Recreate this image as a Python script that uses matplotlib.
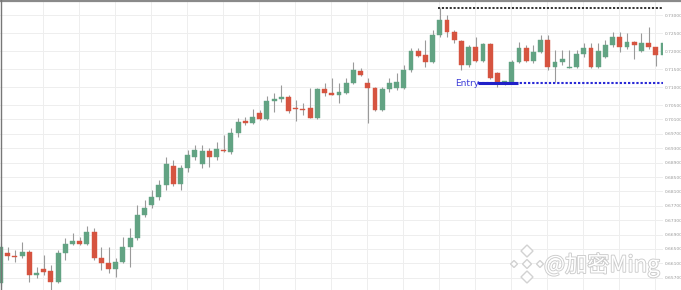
import matplotlib
matplotlib.use("Agg")
import matplotlib.pyplot as plt
import matplotlib.patheffects as pe
from matplotlib.lines import Line2D
from matplotlib.patches import Polygon
import numpy as np

# OHLC, one value per candle
opens = [
    .6555, .6639, .6630, .6630, .6642, .6578, .6594, .6589, .6558, .6639,
    .6664, .6672, .6664, .6697, .6625, .6611, .6594, .6614, .6655, .6680,
    .6744, .6772, .6794, .6828, .6881, .6830, .6875, .6906, .6886, .6922,
    .6906, .6925, .6919, .6972, .7006, .7000, .7028, .7011, .7061, .7067,
    .7072, .7042, .7039, .7042, .7014, .7095, .7083, .7078, .7083, .7111,
    .7145, .7111, .7097, .7036, .7095, .7097, .7097, .7147, .7200, .7189,
    .7170, .7245, .7286, .7253, .7228, .7161, .7211, .7172, .7220, .7139,
    .7111, .7114, .7170, .7208, .7172, .7197, .7231, .7156, .7170, .7154,
    .7156, .7192, .7208, .7156, .7183, .7217, .7239, .7211, .7225, .7200,
    .7222, .7211, .7189]
highs = [
    .6667, .6655, .6647, .6669, .6647, .6600, .6633, .6605, .6647, .6680,
    .6694, .6683, .6714, .6708, .6655, .6655, .6625, .6683, .6708, .6772,
    .6786, .6814, .6842, .6906, .6897, .6883, .6925, .6939, .6939, .6931,
    .6947, .6967, .6986, .7014, .7017, .7039, .7036, .7075, .7083, .7106,
    .7078, .7064, .7056, .7097, .7097, .7111, .7125, .7111, .7125, .7170,
    .7153, .7125, .7100, .7100, .7125, .7139, .7161, .7208, .7208, .7231,
    .7258, .7320, .7300, .7258, .7231, .7217, .7239, .7222, .7222, .7142,
    .7117, .7175, .7225, .7217, .7217, .7245, .7245, .7203, .7203, .7203,
    .7203, .7222, .7222, .7222, .7231, .7253, .7253, .7250, .7228, .7250,
    .7267, .7211, .7231]
lows = [
    .6547, .6619, .6614, .6625, .6558, .6569, .6578, .6536, .6555, .6619,
    .6661, .6661, .6661, .6619, .6592, .6583, .6572, .6611, .6600, .6675,
    .6739, .6764, .6786, .6814, .6825, .6814, .6864, .6897, .6875, .6878,
    .6897, .6919, .6914, .6961, .6995, .6997, .7008, .7008, .7031, .7058,
    .7028, .7006, .7022, .7014, .7011, .7075, .7078, .7056, .7081, .7109,
    .7131, .7000, .7033, .7033, .7086, .7092, .7095, .7142, .7183, .7156,
    .7167, .7239, .7239, .7222, .7147, .7156, .7170, .7170, .7122, .7100,
    .7106, .7111, .7167, .7170, .7167, .7195, .7147, .7114, .7161, .7153,
    .7153, .7183, .7153, .7153, .7181, .7211, .7197, .7206, .7178, .7197,
    .7206, .7158, .7181]
closes = [
    .6655, .6630, .6628, .6642, .6578, .6583, .6586, .6558, .6639, .6664,
    .6672, .6664, .6697, .6625, .6611, .6594, .6614, .6655, .6680, .6744,
    .6764, .6794, .6828, .6886, .6830, .6875, .6911, .6925, .6922, .6906,
    .6928, .6922, .6972, .7003, .7000, .7017, .7011, .7061, .7067, .7072,
    .7033, .7039, .7037, .7014, .7095, .7083, .7079, .7086, .7111, .7147,
    .7134, .7097, .7036, .7095, .7111, .7114, .7147, .7200, .7186, .7170,
    .7245, .7286, .7253, .7231, .7161, .7211, .7172, .7220, .7125, .7114,
    .7117, .7170, .7208, .7172, .7197, .7231, .7156, .7170, .7178, .7156,
    .7192, .7208, .7156, .7200, .7217, .7239, .7211, .7225, .7217, .7222,
    .7211, .7189, .7222]

# right-hand price scale as shown
ytick_vals = [0.730, 0.725, 0.720, 0.715, 0.710, 0.705, 0.701, 0.697, 0.693,
              0.689, 0.685, 0.681, 0.677, 0.673, 0.669, 0.665, 0.661, 0.657]
ytick_labels = ["%.5f" % v for v in ytick_vals]

entry_level = 0.7111
entry_start, entry_end = 66.3, 71.9   # thick entry marker (candle index)
high_idx = int(np.argmax(highs))
resistance = highs[high_idx]

GREEN = "#62a383"
RED = "#d65440"
WICK = "#9a9a9a"

fig = plt.figure(figsize=(6.81, 2.90), dpi=100)
ax = fig.add_axes([0, 0, 663 / 681, 1])

x = np.arange(len(opens))
o = np.array(opens)
c = np.array(closes)
up = c >= o
colors = np.where(up, GREEN, RED)

ax.vlines(x, lows, highs, color=WICK, lw=0.8, zorder=2)
bottom = np.minimum(o, c)
height = np.maximum(np.abs(c - o), 0.0003)
ax.bar(x, height, bottom=bottom, width=0.68, color=colors, edgecolor=colors,
       lw=0.3, zorder=3)

# resistance (black dots) and entry (blue)
ax.hlines(resistance, high_idx - 0.2, 93, colors="#333333", lw=1.4,
          linestyles=(0, (1.1, 0.9)), zorder=4)
ax.hlines(entry_level, entry_start, 93, colors="#2a2ad6", lw=1.5,
          linestyles=(0, (1.1, 0.9)), zorder=4)
ax.hlines(entry_level, entry_start, entry_end, colors="#2020c8", lw=2.2, zorder=5)
ax.text(63.2, entry_level, "Entry", color="#3c3cd8", fontsize=6.5,
        ha="left", va="center", zorder=5)

ax.set_xlim(-0.07, 92.0)
ax.set_ylim(0.6536, 0.7342)

ax.set_yticks(ytick_vals)
ax.set_yticklabels(ytick_labels)
ax.set_xticks(np.arange(5.9, 93, 5))
ax.tick_params(axis="y", left=False, right=True, labelleft=False, labelright=True,
               length=0, labelsize=3.2, labelcolor="#999999", pad=1)
ax.tick_params(axis="x", bottom=False, labelbottom=False)
ax.grid(True, color="#eeeeee", lw=0.7, zorder=0)
ax.set_axisbelow(True)
for s in ax.spines.values():
    s.set_visible(False)

# screenshot frame at top and left
fig.add_artist(Line2D([0, 1], [0.995, 0.995], transform=fig.transFigure,
                      color="#8a8a8a", lw=1.6))
fig.add_artist(Line2D([0.001, 0.001], [0, 1], transform=fig.transFigure,
                      color="#777777", lw=1.0))

# watermark: logo + "@加密Ming"
def diamond(cx, cy, r):
    return Polygon([(cx - r, cy), (cx, cy + r), (cx + r, cy), (cx, cy - r)],
                   closed=True, transform=None, facecolor="white",
                   edgecolor="#d2d2d2", lw=1.0, zorder=10)

for (cx, cy, r) in [(527, 264, 4.5), (514, 264, 3.5), (540, 264, 3.5),
                    (527, 251, 6), (527, 277, 6)]:
    fig.add_artist(diamond(cx, 290 - cy, r))

fig.text(544 / 681, 1 - 265 / 290, "@加密Ming", ha="left", va="center",
         fontsize=16, family=["Noto Sans CJK SC", "DejaVu Sans"], color="white",
         path_effects=[pe.withStroke(linewidth=1.3, foreground="#cccccc")],
         zorder=10)

fig.savefig("out.png", dpi=100)
